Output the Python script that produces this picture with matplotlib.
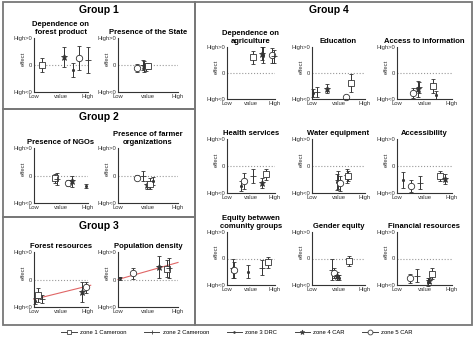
import matplotlib
matplotlib.use('Agg')
import matplotlib.pyplot as plt
from matplotlib.lines import Line2D
from matplotlib.patches import Rectangle

plt.rcParams['font.family'] = ['Liberation Sans', 'DejaVu Sans']

W, H = 474, 339

zone_names = ['zone 1 Cameroon', 'zone 2 Cameroon', 'zone 3 DRC', 'zone 4 CAR', 'zone 5 CAR']
zone_markers = ['s', '+', '.', '*', 'o']
zone_fill = ['white', '#333333', '#333333', '#333333', 'white']

y_ticklabels = ['High<0', '0', 'High>0']
x_ticklabels = ['Low', 'value', 'High']

# (zone, value, effect, error)
forest_prod = [(1, 0.15, 0.0, 0.25), (4, 0.55, 0.3, 0.38), (3, 0.73, -0.18, 0.27),
               (5, 0.84, 0.25, 0.45), (2, 1.0, 0.18, 0.48)]
state = [(5, 0.32, -0.12, 0.15), (2, 0.42, 0.0, 0.2), (4, 0.44, -0.05, 0.2),
         (3, 0.46, -0.08, 0.15), (1, 0.5, -0.03, 0.1)]
ngos = [(1, 0.38, -0.1, 0.16), (2, 0.42, -0.12, 0.22), (5, 0.63, -0.28, 0.1),
        (4, 0.7, -0.2, 0.2), (3, 0.96, -0.38, 0.08)]
farmer_org = [(5, 0.31, -0.08, 0.1), (2, 0.42, -0.03, 0.18), (4, 0.48, -0.35, 0.15),
              (1, 0.53, -0.3, 0.2), (3, 0.58, -0.2, 0.15)]
forest_res = [(3, 0.02, -0.78, 0.1), (1, 0.07, -0.55, 0.25), (2, 0.15, -0.7, 0.15),
              (4, 0.88, -0.45, 0.35), (5, 0.97, -0.28, 0.2)]
forest_res_trend_x = [0.0, 1.05]
forest_res_trend_y = [-0.72, -0.21]
pop_density = [(3, 0.03, 0.04, 0.05), (5, 0.25, 0.23, 0.2), (4, 0.68, 0.45, 0.4),
               (1, 0.82, 0.4, 0.3), (2, 0.85, 0.42, 0.35)]
pop_density_trend_x = [0.0, 1.0]
pop_density_trend_y = [0.0, 0.62]

agriculture = [(1, 0.54, 0.6, 0.25), (4, 0.73, 0.75, 0.25), (3, 0.76, 0.7, 0.3),
               (5, 0.93, 0.68, 0.3), (2, 0.97, 0.64, 0.25)]
education = [(3, 0.02, -0.78, 0.15), (2, 0.1, -0.72, 0.2), (4, 0.28, -0.6, 0.17),
             (5, 0.64, -0.92, 0.05), (1, 0.74, -0.38, 0.35)]
information = [(5, 0.29, -0.77, 0.18), (4, 0.38, -0.62, 0.3), (2, 0.4, -0.55, 0.2),
               (1, 0.65, -0.5, 0.28), (3, 0.7, -0.85, 0.15)]
health = [(3, 0.29, -0.74, 0.2), (5, 0.35, -0.56, 0.3), (2, 0.54, -0.37, 0.25),
          (4, 0.73, -0.64, 0.18), (1, 0.81, -0.3, 0.2)]
water = [(3, 0.47, -0.6, 0.3), (2, 0.49, -0.52, 0.35), (5, 0.53, -0.64, 0.28),
         (4, 0.66, -0.37, 0.25), (1, 0.68, -0.37, 0.2)]
accessibility = [(3, 0.11, -0.52, 0.3), (5, 0.25, -0.74, 0.22), (2, 0.42, -0.62, 0.25),
                 (1, 0.78, -0.37, 0.2), (4, 0.87, -0.48, 0.18)]
equity_groups = [(4, 0.12, -0.38, 0.35), (5, 0.14, -0.42, 0.3), (3, 0.44, -0.5, 0.25),
                 (2, 0.73, -0.35, 0.28), (1, 0.85, -0.15, 0.2)]
gender = [(2, 0.38, -0.42, 0.4), (5, 0.42, -0.55, 0.2), (4, 0.47, -0.65, 0.15),
          (3, 0.5, -0.72, 0.08), (1, 0.7, -0.1, 0.2)]
financial = [(5, 0.24, -0.75, 0.18), (2, 0.36, -0.65, 0.25), (3, 0.56, -0.87, 0.15),
             (4, 0.58, -0.84, 0.1), (1, 0.64, -0.57, 0.2)]

fig = plt.figure(figsize=(4.74, 3.39), dpi=100)
fig.patch.set_facecolor('white')


def box(x0, y0, x1, y1):
    fig.patches.append(Rectangle((x0 / W, 1 - y1 / H), (x1 - x0) / W, (y1 - y0) / H,
                                 transform=fig.transFigure, fill=False,
                                 edgecolor='#777777', lw=1.3))


def panel(x0, y0, x1, y1, title, pts, trend=None):
    ax = fig.add_axes([x0 / W, 1 - y1 / H, (x1 - x0) / W, (y1 - y0) / H])
    ax.set_xlim(0, 1)
    ax.set_ylim(-1, 1)
    ax.axhline(0, color='#999999', ls=':', lw=0.8)
    if trend is not None:
        ax.plot(trend[0], trend[1], color='#e06666', lw=0.8, clip_on=False)
    for z, x, y, e in pts:
        ax.errorbar(x, y, yerr=e, fmt=zone_markers[z - 1], color='#333333',
                    mfc=zone_fill[z - 1], mec='#333333', ms=4.6 if z != 3 else 3.2,
                    mew=0.6, elinewidth=0.7, capsize=1.5, capthick=0.6, clip_on=False)
    for s in ['top', 'right']:
        ax.spines[s].set_visible(False)
    for s in ['left', 'bottom']:
        ax.spines[s].set_color('#333333')
        ax.spines[s].set_linewidth(0.8)
    ax.set_yticks([-1, 0, 1])
    ax.set_yticklabels(y_ticklabels)
    ax.set_xticks([0, 0.5, 1])
    ax.set_xticklabels(x_ticklabels)
    ax.tick_params(length=0, labelsize=4.2, colors='#333333', pad=1.5)
    ax.set_ylabel('effect', fontsize=4.2, color='#333333')
    ax.yaxis.set_label_coords(-8 / (x1 - x0), 0.62)
    ax.set_title(title, fontsize=5.5, fontweight='bold', pad=3, linespacing=1.2)
    return ax


# group boxes
box(3, 2, 195, 109)
box(3, 109, 195, 217)
box(3, 217, 195, 325)
box(195, 2, 472, 325)

fig.text(99 / W, 1 - 10 / H, 'Group 1', ha='center', va='center', fontsize=7.5, fontweight='bold')
fig.text(99 / W, 1 - 117 / H, 'Group 2', ha='center', va='center', fontsize=7.5, fontweight='bold')
fig.text(99 / W, 1 - 226 / H, 'Group 3', ha='center', va='center', fontsize=7.5, fontweight='bold')
fig.text(329 / W, 1 - 10 / H, 'Group 4', ha='center', va='center', fontsize=7.5, fontweight='bold')

panel(34, 38, 88, 92, 'Dependence on\nforest product', forest_prod)
panel(118, 38, 178, 92, 'Presence of the State', state)
panel(34, 148, 88, 203, 'Presence of NGOs', ngos)
panel(118, 148, 178, 203, 'Presence of farmer\norganizations', farmer_org)
panel(34, 252, 88, 307, 'Forest resources', forest_res, (forest_res_trend_x, forest_res_trend_y))
panel(118, 252, 178, 307, 'Population density', pop_density, (pop_density_trend_x, pop_density_trend_y))

cols = [(227, 275), (312, 365), (397, 452)]
rows = [(47, 99), (139, 193), (232, 285)]
g4_titles = ['Dependence on\nagriculture', 'Education', 'Access to information',
             'Health services', 'Water equipment', 'Accessibility',
             'Equity betwwen\ncomunity groups', 'Gender equity', 'Financial resources']
g4_data = [agriculture, education, information, health, water, accessibility,
           equity_groups, gender, financial]
for i in range(9):
    r, c = divmod(i, 3)
    panel(cols[c][0], rows[r][0], cols[c][1], rows[r][1], g4_titles[i], g4_data[i])

handles = [Line2D([], [], color='#444444', lw=0.7, marker=zone_markers[k],
                  mfc=zone_fill[k], mec='#444444', ms=3.5 if k != 2 else 2.5, mew=0.6)
           for k in range(5)]
fig.legend(handles, zone_names, loc='center', bbox_to_anchor=(0.5, 1 - 332 / H),
           ncol=5, frameon=False, fontsize=4.2, handlelength=2.6, columnspacing=3.0,
           handletextpad=0.6, borderpad=0)

fig.savefig('out.png', dpi=100, facecolor='white')
